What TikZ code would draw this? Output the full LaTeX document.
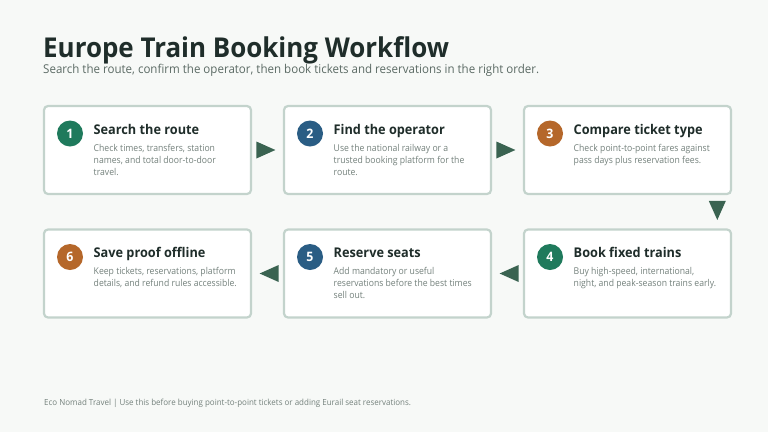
\documentclass[tikz,border=0pt]{standalone}
\usepackage{fontspec}
\setmainfont[FakeStretch=0.95]{Open Sans}
\newfontfamily\descfont[FakeStretch=0.92]{Open Sans}
\usetikzlibrary{shapes.geometric,calc,positioning}
\definecolor{pagecolor}{RGB}{247, 249, 247}
\definecolor{cardedge}{RGB}{195, 211, 204}
\definecolor{titlecolor}{RGB}{31, 45, 42}
\definecolor{subcolor}{RGB}{92, 107, 101}
\definecolor{desccolor}{RGB}{116, 129, 124}
\definecolor{arrowcolor}{RGB}{58, 99, 81}
\definecolor{greenstep}{RGB}{31, 122, 92}
\definecolor{bluestep}{RGB}{42, 93, 132}
\definecolor{orangestep}{RGB}{181, 103, 42}
\tikzset{
  card/.style={draw=cardedge, line width=2.2pt, fill=white, rounded corners=4pt, minimum width=207pt, minimum height=88pt, inner sep=0pt, outer sep=0pt, anchor=north west},
  badge/.style={circle, fill=#1, text=white, minimum size=26pt, inner sep=0pt, font=\fontsize{13}{13}\selectfont\bfseries},
  cardtitle/.style={anchor=base west, inner sep=0pt, text=titlecolor, font=\fontsize{13.4}{16}\selectfont\bfseries},
  carddesc/.style={anchor=north west, inner sep=0pt, align=left, text=desccolor, font=\descfont\fontsize{9.4}{12}\selectfont},
  flowarrow/.style={isosceles triangle, isosceles triangle stretches, fill=arrowcolor, minimum height=19pt, minimum width=17pt, inner sep=0pt, outer sep=0pt, shape border rotate=#1}
}
\begin{document}
\begin{tikzpicture}[x=1pt,y=-1pt]
  \useasboundingbox (0,0) rectangle (768,432);
  \fill[pagecolor] (0,0) rectangle (768,432);

  % Title
  \node[anchor=base west, inner sep=0pt, text=titlecolor, font=\fontsize{27.3}{30}\selectfont\bfseries] (title) at (43,57) {Europe Train Booking Workflow};
  \node[anchor=base west, inner sep=0pt, text=subcolor, font=\fontsize{12.15}{14}\selectfont] (subtitle) at (43,73) {Search the route, confirm the operator, then book tickets and reservations in the right order.};

  % Top row
  \node[card] (card1) at (44,106) {};
  \node[card] (card2) at (284,106) {};
  \node[card] (card3) at (524,106) {};

  % Bottom row
  \node[card] (card6) at (44,229.5) {};
  \node[card] (card5) at (284,229.5) {};
  \node[card] (card4) at (524,229.5) {};

  % Step 1
  \node[badge=greenstep] (badge1) at (70,133.5) {1};
  \node[cardtitle] (title1) at (93.5,134) {Search the route};
  \node[carddesc] (desc1) at (93.5,144.5) {Check times, transfers, station\\names, and total door-to-door\\travel.};

  % Step 2
  \node[badge=bluestep] (badge2) at (310,133.5) {2};
  \node[cardtitle] (title2) at (333.5,134) {Find the operator};
  \node[carddesc] (desc2) at (333.5,144.5) {Use the national railway or a\\trusted booking platform for the\\route.};

  % Step 3
  \node[badge=orangestep] (badge3) at (550,133.5) {3};
  \node[cardtitle] (title3) at (573.5,134) {Compare ticket type};
  \node[carddesc] (desc3) at (573.5,144.5) {Check point-to-point fares against\\pass days plus reservation fees.};

  % Step 4
  \node[badge=greenstep] (badge4) at (550,257) {4};
  \node[cardtitle] (title4) at (573.5,257) {Book fixed trains};
  \node[carddesc] (desc4) at (573.5,267.5) {Buy high-speed, international,\\night, and peak-season trains early.};

  % Step 5
  \node[badge=bluestep] (badge5) at (310,257) {5};
  \node[cardtitle] (title5) at (333.5,257) {Reserve seats};
  \node[carddesc] (desc5) at (333.5,267.5) {Add mandatory or useful\\reservations before the best times\\sell out.};

  % Step 6
  \node[badge=orangestep] (badge6) at (70,257) {6};
  \node[cardtitle] (title6) at (93.5,257) {Save proof offline};
  \node[carddesc] (desc6) at (93.5,267.5) {Keep tickets, reservations, platform\\details, and refund rules accessible.};

  % Arrows between the cards
  \node[flowarrow=0] (arrow12) at ($(card1.east)!0.33!(card2.west)$) {};
  \node[flowarrow=0] (arrow23) at ($(card2.east)!0.33!(card3.west)$) {};
  \node[flowarrow=-90] (arrow34) at (717.3,206.5) {};
  \node[flowarrow=180] (arrow45) at ($(card4.west)!0.33!(card5.east)$) {};
  \node[flowarrow=180] (arrow56) at ($(card5.west)!0.33!(card6.east)$) {};

  % Footer
  \node[anchor=base west, inner sep=0pt, text=desccolor, font=\fontsize{8.4}{10}\selectfont] (footer) at (44,405) {Eco Nomad Travel | Use this before buying point-to-point tickets or adding Eurail seat reservations.};
\end{tikzpicture}
\end{document}
